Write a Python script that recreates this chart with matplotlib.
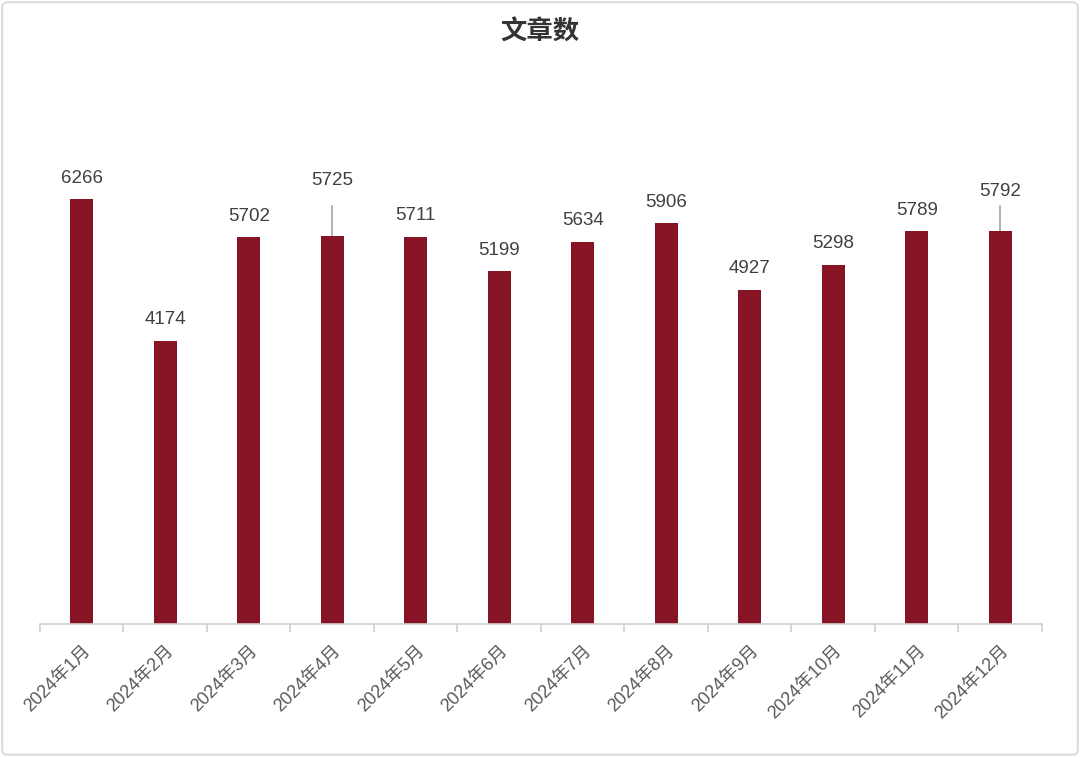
import matplotlib
matplotlib.use("Agg")
import matplotlib.pyplot as plt
from matplotlib.patches import FancyBboxPatch
import numpy as np

plt.rcParams['font.family'] = ['Liberation Sans', 'Noto Sans CJK SC', 'DejaVu Sans']

months = ['2024年1月', '2024年2月', '2024年3月', '2024年4月', '2024年5月', '2024年6月',
          '2024年7月', '2024年8月', '2024年9月', '2024年10月', '2024年11月', '2024年12月']
counts = [6266, 4174, 5702, 5725, 5711, 5199, 5634, 5906, 4927, 5298, 5789, 5792]
# labels pushed up with a leader line: (label centre, line top)
raised = {3: (6534, 6160), 11: (6372, 6160)}

bar_color = '#861424'
text_color = '#404040'

fig = plt.figure(figsize=(10.8, 7.57), dpi=100)
frame = FancyBboxPatch((0.002, 0.003), 0.996, 0.994, boxstyle="round,pad=0,rounding_size=0.006",
                       transform=fig.transFigure, facecolor='white', edgecolor='#dcdcdc',
                       linewidth=1.5, zorder=-10)
fig.patches.append(frame)

ax = fig.add_axes([0.037, 0.1757, 0.9278, 0.6923])
x = np.arange(len(months))
ax.bar(x, counts, width=0.28, color=bar_color, zorder=2)

off = 21 / 0.0678
for i, v in enumerate(counts):
    if i in raised:
        ly, top = raised[i]
        ax.plot([i, i], [v, top], color='#a6a6a6', lw=1.2, zorder=1)
        ax.text(i, ly, str(v), ha='center', va='center', fontsize=13.5, color=text_color)
    else:
        ax.text(i, v + off, str(v), ha='center', va='center', fontsize=13.5, color=text_color)

ax.set_xlim(-0.5, len(months) - 0.5)
ax.set_ylim(0, 7728)
ax.set_yticks([])
ax.set_xticks(x)
ax.set_xticklabels(months, rotation=45, ha='right', rotation_mode='anchor',
                   fontsize=13, color='#595959')
ax.set_xticks(np.arange(-0.5, len(months)), minor=True)
ax.tick_params(axis='x', which='major', length=0, pad=13)
ax.tick_params(axis='x', which='minor', length=6, color='#d0d0d0', width=1.2)
for s in ['top', 'right', 'left']:
    ax.spines[s].set_visible(False)
ax.spines['bottom'].set_color('#d0d0d0')
ax.spines['bottom'].set_linewidth(1.2)
ax.patch.set_alpha(0)

fig.text(0.5, 0.957, '文章数', ha='center', va='center', fontsize=19, fontweight='bold',
         color='#333333')

fig.savefig('out.png', dpi=100)
